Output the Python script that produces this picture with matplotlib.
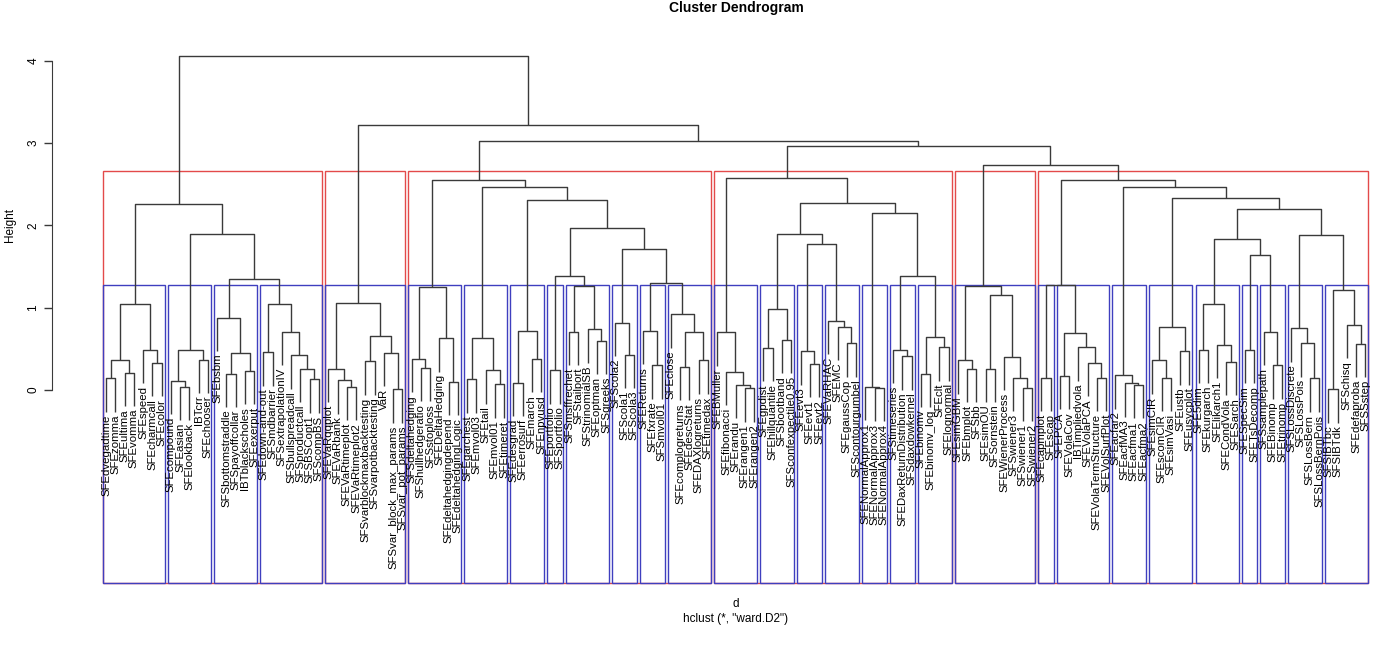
import matplotlib
matplotlib.use("Agg")
import matplotlib.pyplot as plt
from matplotlib.patches import Rectangle

plt.rcParams["font.family"] = ["Liberation Sans", "DejaVu Sans"]

# hclust result, written as nested "(left,right)height" strings
# one string per blue group, combined into the red groups and the full tree
a1 = "(((SFEdvegadtime,SFEzomma)0.14,(SFEultima,SFEvomma)0.21)0.36,(SFEspeed,(SFEcharmcall,SFEcolor)0.33)0.49)1.05"
a2 = "((SFEcompound,(SFEasian,SFElookback)0.04)0.11,(IBTcrr,SFEchooser)0.37)0.49"
a3 = "(SFEbsbm,((SFSbottomstraddle,SFSpayoffcollar)0.20,(IBTblackscholes,SFEexerput)0.23)0.45)0.88"
a4 = ("((SFEdown-and-out,SFSmdbarrier)0.46,(SFSextrapolationIV,(SFSbullspreadcall,"
      "(SFSproductcall,(SFSBSCopt1,SFScompBS)0.13)0.26)0.42)0.71)1.05")

b1 = ("((SFEVaRqqplot,(SFEVaRbank,(SFEVaRtimeplot,SFEVaRtimeplot2)0.04)0.12)0.26,"
      "((SFSvarblockmaxbacktesting,SFSvarpotbacktesting)0.35,"
      "(VaR,(SFSvar_block_max_params,SFSvar_pot_params)0.01)0.45)0.66)1.06")

c1 = ("((SFSdeltahedging,(SFShullhedgeratio,SFSstoploss)0.27)0.38,"
      "(SFEDeltaHedging,(SFEdeltahedgingdepend,SFEdeltahedgingLogic)0.10)0.63)1.25")
c2 = "((SFEgarchest,SFEmvol03)0.13,(SFEtail,(SFEmvol01,SFEtimeret)0.07)0.24)0.63"
c3 = "((SFEdesgrad,SFEerrosurf)0.09,(SFEmarch,SFEnpvusd)0.38)0.72"
c4 = "(SFEportfolio,SFSportfolio)0.24"
c5 = "((SFSmsffrechet,SFStailport)0.71,(SFStrinomialSB,(SFEoptman,SFSgreeks)0.60)0.74)1.26"
c6 = "(SFScola2,(SFScola1,SFScola3)0.43)0.82"
c7 = "(SFEReturns,(SFEfxrate,SFSmvol01)0.30)0.72"
c8 = "(SFEclose,((SFEcomplogreturns,SFEdescStat)0.28,(SFEDAXlogreturns,SFEtimedax)0.36)0.70)0.92"

d1 = "(SFEBMuller,(SFEfibonacci,(SFErandu,(SFErangen1,SFErangen2)0.02)0.06)0.22)0.70"
d2 = "((SFEgpdist,SFEhillquantile)0.51,(SFSbootband,SFSconfexpectile0.95)0.61)0.99"
d3 = "(SFEevt3,(SFEevt1,SFEevt2)0.32)0.47"
d4 = "(SFEVaRHAC,(SFEMC,(SFEgaussCop,SFScontourgumbel)0.57)0.77)0.84"
d5 = "(SFENormalApprox1,(SFENormalApprox3,SFENormalApprox4)0.03)0.04"
d6 = "(SFStimeseries,(SFEDaxReturnDistribution,SFSdaxdowkernel)0.41)0.49"
d7 = "((SFEbinomv,SFEbinomv_log)0.20,(SFEclt,SFElognormal)0.52)0.64"

e1 = ("((SFEsimGBM,(SFEbmplot,SFSbb)0.26)0.36,((SFEsimOU,SFSornstein)0.26,"
      "(SFEWienerProcess,(SFSwiener3,(SFSwiener1,SFSwiener2)0.03)0.15)0.40)1.15)1.26")

f1 = "(SFEcapmplot,SFEscap)0.15"
f2 = ("((SFEPCA,SFEVolaCov)0.17,(IBTimpliedvola,(SFEVolaPCA,"
      "(SFEVolaTermStructure,SFEVolSurfPlot)0.15)0.33)0.52)0.69")
f3 = "(SFEacfar2,(SFEacfMA3,(SFEacfma1,SFEacfma2)0.06)0.08)0.18"
f4 = "((SFEsimCIR,(SFEscomCIR,SFEsimVasi)0.15)0.36,(SFEustb,SFEusycplot)0.47)0.77"
f5 = "((SFE5dim,SFEkurgarch)0.49,(SFElikarch1,(SFECondVola,SFESarch)0.34)0.55)1.04"
f6 = "(SFESpecSim,SFETsDecomp)0.49"
f7 = "(SFSsamplepath,(SFEBinomp,SFEtrinomp)0.30)0.71"
f8 = "(SFSLossDiscrete,(SFSLossPois,(SFSLossBern,SFSLossBernPois)0.14)0.57)0.75"
f9 = "((SFSIBTbc,SFSIBTdk)0.01,(SFSchisq,(SFEdefaproba,SFSSstep)0.56)0.79)1.21"

group_a = f"({a1},({a2},({a3},{a4})1.35)1.90)2.26"
group_b = b1
group_c = f"({c1},({c2},({c3},(({c4},{c5})1.38,({c6},({c7},{c8})1.30)1.71)1.97)2.31)2.47)2.55"
group_d = f"({d1},(({d2},({d3},{d4})1.77)1.90,({d5},({d6},{d7})1.38)2.15)2.27)2.58"
group_e = e1
group_f = f"(({f1},{f2})1.28,({f3},({f4},(({f5},({f6},{f7})1.64)1.83,({f8},{f9})1.88)2.20)2.33)2.47)2.55"
tree = f"({group_a},({group_b},({group_c},({group_d},({group_e},{group_f})2.73)2.96)3.02)3.22)4.06"

# rect.hclust calls made on the tree
box_k = [6, 30]
box_colors = ["#e34a4a", "#3f3fbf"]


def parse(s):
    pos = 0

    def node():
        nonlocal pos
        if s[pos] == "(":
            pos += 1
            left = node()
            pos += 1  # ','
            right = node()
            pos += 1  # ')'
            start = pos
            while pos < len(s) and s[pos] not in ",)":
                pos += 1
            return (float(s[start:pos]), left, right)
        start = pos
        while pos < len(s) and s[pos] not in ",)":
            pos += 1
        return s[start:pos]

    return node()


root = parse(tree)
heights = []


def collect(n):
    if isinstance(n, tuple):
        heights.append(n[0])
        collect(n[1])
        collect(n[2])


collect(root)
heights.sort(reverse=True)
hang = 0.1 * heights[0]

fig = plt.figure(figsize=(13.75, 6.55), dpi=100)
W, H = 1375, 655
px_leaf0, px_step = 106, 9.26
x_lo, x_hi = 52, 1416
ax = fig.add_axes([x_lo / W, (H - 583) / H, (x_hi - x_lo) / W, (583 - 45) / H])
ax.set_xlim(1 - (px_leaf0 - x_lo) / px_step, 1 + (x_hi - px_leaf0) / px_step)
ax.set_ylim((390 - 583) / 82.3, (390 - 45) / 82.3)

line_kw = dict(color="#3a3a3a", lw=1.0, solid_capstyle="butt")
leaf_count = [0]
node_span = {}


def draw(n, parent_h):
    # returns x, bottom y, first and last leaf index of the subtree
    if not isinstance(n, tuple):
        leaf_count[0] += 1
        x = leaf_count[0]
        y = parent_h - hang
        ax.annotate(n, (x, y), xytext=(0, -2), textcoords="offset points",
                    rotation=90, ha="center", va="top", fontsize=8.2,
                    annotation_clip=False)
        return x, y, x, x
    h, left, right = n
    xl, yl, lo, _ = draw(left, h)
    xr, yr, _, hi = draw(right, h)
    ax.plot([xl, xl, xr, xr], [yl, h, h, yr], **line_kw)
    node_span[id(n)] = (lo, hi)
    return (xl + xr) / 2, h, lo, hi


draw(root, root[0])


def clusters(n, cut, out):
    if isinstance(n, tuple) and n[0] >= cut:
        clusters(n[1], cut, out)
        clusters(n[2], cut, out)
    else:
        out.append(n)


ybot = ax.get_ylim()[0]
for k, col in zip(box_k, box_colors):
    cut = (heights[k - 2] + heights[k - 1]) / 2
    groups = []
    clusters(root, cut, groups)
    pos = 1
    for g in groups:
        lo, hi = node_span[id(g)] if isinstance(g, tuple) else (pos, pos)
        pos = hi + 1
        ax.add_patch(Rectangle((lo - 0.34, ybot), hi - lo + 0.67, cut - ybot,
                               fill=False, ec=col, lw=1.0, clip_on=False))

for side in ["top", "right", "bottom"]:
    ax.spines[side].set_visible(False)
ax.spines["left"].set_bounds(0, 4)
ax.spines["left"].set_color("#3a3a3a")
ax.set_xticks([])
ax.set_yticks([0, 1, 2, 3, 4])
ax.tick_params(axis="y", length=6, width=1, color="#3a3a3a", labelsize=8.5, pad=3)
for lab in ax.get_yticklabels():
    lab.set_rotation(90)
    lab.set_va("center")

fig.text(736 / W, 1 - 8 / H, "Cluster Dendrogram", ha="center", va="center",
         fontsize=10, fontweight="bold")
fig.text(10 / W, 1 - 225 / H, "Height", rotation=90, ha="center", va="center", fontsize=8.5)
fig.text(736 / W, 1 - 604 / H, "d", ha="center", va="center", fontsize=8.5)
fig.text(736 / W, 1 - 619 / H, 'hclust (*, "ward.D2")', ha="center", va="center", fontsize=8.5)

fig.savefig("out.png", dpi=100)
